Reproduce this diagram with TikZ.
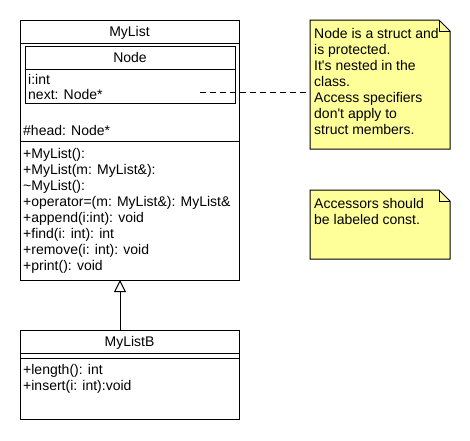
\documentclass[tikz,border=0pt]{standalone}
\usepackage{fontspec}
\setmainfont{Liberation Sans}[Ligatures=TeXOff]
\usetikzlibrary{arrows.meta}
\definecolor{notefill}{RGB}{255,255,153}
\begin{document}
\begin{tikzpicture}[x=1pt,y=-1pt,
  boxline/.style={draw=black, line width=1pt},
  classbox/.style={boxline, fill=white, inner sep=0pt, outer sep=0pt},
  notebox/.style={inner sep=0pt, outer sep=0pt},
  txt/.style={anchor=base west, inner sep=0pt, font=\fontsize{14}{16}\selectfont},
  ttl/.style={anchor=base, inner sep=0pt, font=\fontsize{14}{16}\selectfont},
  gen/.style={line width=1pt, -{Triangle[open, length=12pt, width=12pt, fill=white]}},
  notelink/.style={line width=1pt, dash pattern=on 6pt off 4pt}
]
\useasboundingbox (0,0) rectangle (470,440);

% MyList class
\node[classbox, minimum width=219pt, minimum height=260pt] (mylist) at (129.5,150) {};
\draw[boxline] (20,43) -- (239,43);
\node[ttl] (mylistT) at (129.5,36.5) {MyList};

% nested Node struct
\node[classbox, minimum width=210pt, minimum height=57pt] (node) at (130,74.5) {};
\draw[boxline] (25,69) -- (235,69);
\node[ttl] (nodeT) at (130,62.5) {Node};
\node[txt] (a1) at (28,84) {i:int};
\node[txt] (a2) at (28,99.5) {next: Node*};

\node[txt] (head) at (23,135) {\#head: Node*};
\draw[boxline] (20,141) -- (239,141);
\node[txt] (m1) at (23,158) {+MyList():};
\node[txt] (m2) at (23,174) {+MyList(m: MyList\&):};
\node[txt] (m3) at (23,190) {\char`\~MyList():};
\node[txt] (m4) at (23,206) {+operator=(m: MyList\&): MyList\&};
\node[txt] (m5) at (23,222) {+append(i:int): void};
\node[txt] (m6) at (23,238) {+find(i: int): int};
\node[txt] (m7) at (23,254) {+remove(i: int): void};
\node[txt] (m8) at (23,270) {+print(): void};

% MyListB class
\node[classbox, minimum width=219pt, minimum height=89pt] (mylistb) at (129.5,374.5) {};
\draw[boxline] (20,353) -- (239,353);
\draw[boxline] (20,358) -- (239,358);
\node[ttl] (mylistbT) at (129.5,346.5) {MyListB};
\node[txt] (b1) at (23,374) {+length(): int};
\node[txt] (b2) at (23,390) {+insert(i: int):void};

% generalization
\coordinate (genx) at (120,0);
\draw[gen] (mylistb.north -| genx) -- (mylist.south -| genx);

% notes
\node[notebox, minimum width=140pt, minimum height=129pt] (note1) at (380,84.5) {};
\fill[notefill] (310,20) -- (439,20) -- (450,31) -- (450,149) -- (310,149) -- cycle;
\draw[boxline] (310,20) -- (439,20) -- (450,31) -- (450,149) -- (310,149) -- cycle;
\draw[boxline, line width=0.8pt] (439,20) -- (439,31) -- (450,31);
\node[txt] (n1) at (314,38) {Node is a struct and};
\node[txt] (n2) at (314,54) {is protected.};
\node[txt] (n3) at (314,70) {It's nested in the};
\node[txt] (n4) at (314,86) {class.};
\node[txt] (n5) at (314,102) {Access specifiers};
\node[txt] (n6) at (314,118) {don't apply to};
\node[txt] (n7) at (314,134) {struct members.};

\node[notebox, minimum width=140pt, minimum height=69pt] (note2) at (380,224.5) {};
\fill[notefill] (310,190) -- (439,190) -- (450,201) -- (450,259) -- (310,259) -- cycle;
\draw[boxline] (310,190) -- (439,190) -- (450,201) -- (450,259) -- (310,259) -- cycle;
\draw[boxline, line width=0.8pt] (439,190) -- (439,201) -- (450,201);
\node[txt] (p1) at (314,208) {Accessors should};
\node[txt] (p2) at (314,224) {be labeled const.};

% note link
\coordinate (linkstart) at (200,92);
\draw[notelink] (linkstart) -- (note1.west |- linkstart);
\end{tikzpicture}
\end{document}
